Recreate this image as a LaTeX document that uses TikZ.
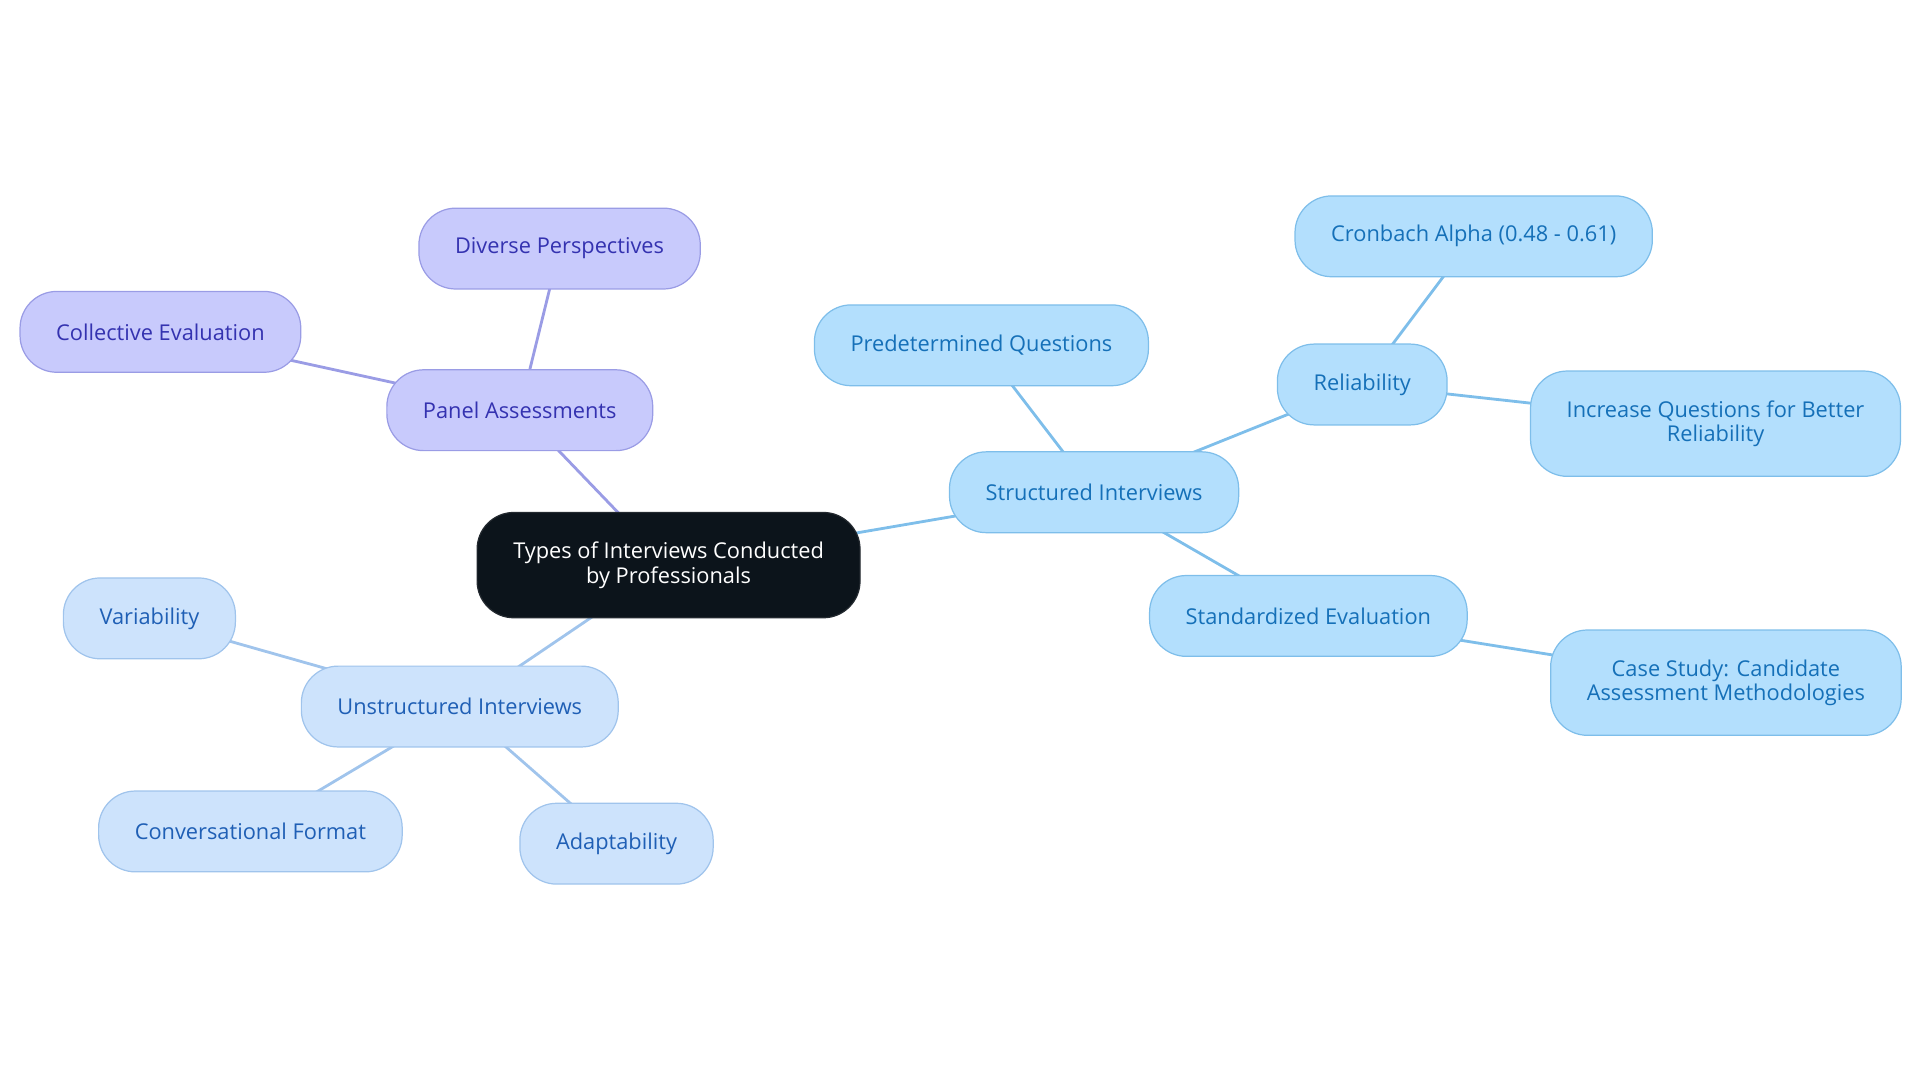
\documentclass[tikz,border=0pt]{standalone}
\usepackage{fontspec}
\setmainfont{Open Sans}
\usepackage{tikz}
\usetikzlibrary{backgrounds,positioning}

\definecolor{rootfill}{HTML}{0C141B}
\definecolor{panfill}{HTML}{C8CAFC}
\definecolor{panline}{HTML}{9A9CE5}
\definecolor{pantext}{HTML}{3432B0}
\definecolor{strfill}{HTML}{B3DFFD}
\definecolor{strline}{HTML}{7EBEEA}
\definecolor{strtext}{HTML}{1570B8}
\definecolor{unsfill}{HTML}{CDE3FC}
\definecolor{unsline}{HTML}{A0C4EC}
\definecolor{unstext}{HTML}{1F5FB5}

\begin{document}
\begin{tikzpicture}[x=1pt,y=-1pt,
    topic/.style={rounded corners=30pt,minimum height=66pt,inner xsep=29.5pt,align=center,font=\fontsize{17.8}{20}\selectfont,line width=1pt},
    root/.style={topic,fill=rootfill,draw=rootfill!80!gray,text=white,minimum height=86pt},
    pan/.style={topic,fill=panfill,draw=panline,text=pantext},
    str/.style={topic,fill=strfill,draw=strline,text=strtext},
    uns/.style={topic,fill=unsfill,draw=unsline,text=unstext},
    link/.style={line width=2.3pt}]
        \useasboundingbox (0,0) rectangle (1568,884.4);

        \node[root] (types) at (546,461.5) {Types of Interviews Conducted\\by Professionals};

        % panel branch
        \node[pan] (panel) at (424.5,335) {Panel Assessments};
        \node[pan] (diverse) at (457,203) {Diverse Perspectives};
        \node[pan] (collective) at (131,271) {Collective Evaluation};

        % structured branch
        \node[str] (structured) at (893.5,402) {Structured Interviews};
        \node[str] (predet) at (801.5,282) {Predetermined Questions};
        \node[str] (reliab) at (1112.5,314) {Reliability};
        \node[str] (cronbach) at (1203.5,193) {Cronbach Alpha (0.48 - 0.61)};
        \node[str,minimum height=86pt] (increase) at (1401,346) {Increase Questions for Better\\Reliability};
        \node[str] (standard) at (1068.5,503) {Standardized Evaluation};
        \node[str,minimum height=86pt] (casestudy) at (1409.5,557.5) {Case Study: Candidate\\Assessment Methodologies};

        % unstructured branch
        \node[uns] (unstructured) at (375.5,577) {Unstructured Interviews};
        \node[uns] (variab) at (122,505) {Variability};
        \node[uns] (convers) at (204.5,679) {Conversational Format};
        \node[uns] (adapt) at (503.5,689) {Adaptability};

        \begin{scope}[on background layer]
            \draw[link,panline] (types.center) -- (panel.center);
            \draw[link,panline] (panel.center) -- (diverse.center);
            \draw[link,panline] (panel.center) -- (collective.center);
            \draw[link,strline] (types.center) -- (structured.center);
            \draw[link,strline] (structured.center) -- (predet.center);
            \draw[link,strline] (structured.center) -- (reliab.center);
            \draw[link,strline] (reliab.center) -- (cronbach.center);
            \draw[link,strline] (reliab.center) -- (increase.center);
            \draw[link,strline] (structured.center) -- (standard.center);
            \draw[link,strline] (standard.center) -- (casestudy.center);
            \draw[link,unsline] (types.center) -- (unstructured.center);
            \draw[link,unsline] (unstructured.center) -- (variab.center);
            \draw[link,unsline] (unstructured.center) -- (convers.center);
            \draw[link,unsline] (unstructured.center) -- (adapt.center);
        \end{scope}
    \end{tikzpicture}
\end{document}
